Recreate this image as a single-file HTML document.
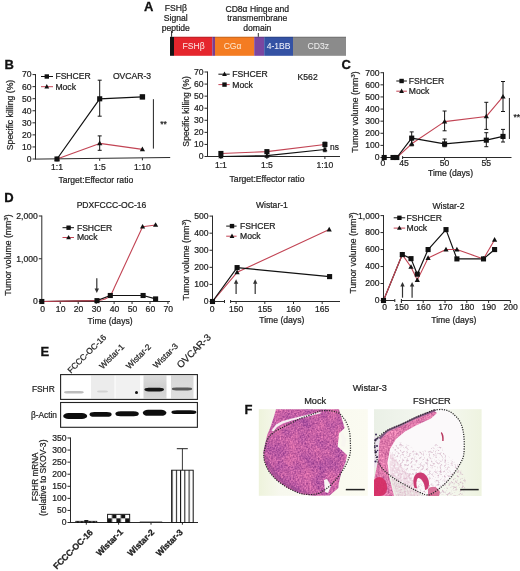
<!DOCTYPE html>
<html><head><meta charset="utf-8"><title>Figure</title>
<style>html,body{margin:0;padding:0;background:#fff;}svg{display:block;filter:blur(0.35px);}text{font-family:'Liberation Sans', Arial, Helvetica, sans-serif;}</style>
</head><body>
<svg width="520" height="571" viewBox="0 0 520 571">
<defs>
<filter id="bl1" x="-30%" y="-100%" width="160%" height="300%"><feGaussianBlur stdDeviation="0.7"/></filter>
<linearGradient id="lane4" x1="0" y1="0" x2="0" y2="1"><stop offset="0" stop-color="#dcdcdc"/><stop offset="0.5" stop-color="#cfcfcf"/><stop offset="1" stop-color="#d8d8d8"/></linearGradient>
<linearGradient id="lane5" x1="0" y1="0" x2="0" y2="1"><stop offset="0" stop-color="#d8d8d8"/><stop offset="1" stop-color="#dedede"/></linearGradient>
<pattern id="checker" x="107.6" y="514.3" width="8.8" height="8.8" patternUnits="userSpaceOnUse"><rect width="8.8" height="8.8" fill="#fff"/><rect x="4.4" y="0" width="4.4" height="4.1" fill="#111"/><rect x="0" y="4.1" width="4.4" height="4.7" fill="#111"/></pattern>
<pattern id="vstripe" x="171.6" y="0" width="4.25" height="10" patternUnits="userSpaceOnUse"><rect width="4.25" height="10" fill="#fff"/><rect x="0" width="1" height="10" fill="#111"/></pattern>
<pattern id="dash" x="75.8" y="0" width="4" height="10" patternUnits="userSpaceOnUse"><rect width="4" height="10" fill="#fff"/><rect x="1" width="2" height="10" fill="#111"/></pattern>
<filter id="tex" x="0" y="0" width="100%" height="100%"><feTurbulence type="fractalNoise" baseFrequency="0.35" numOctaves="2" seed="3" result="n"/><feColorMatrix in="n" type="matrix" values="0 0 0 0 0  0 0 0 0 0  0 0 0 0 0  0 0 0 -0.9 1.05" result="a"/><feComposite in="SourceGraphic" in2="a" operator="in"/></filter>
<linearGradient id="bg1" x1="0" y1="0" x2="1" y2="0"><stop offset="0" stop-color="#eef3dc"/><stop offset="0.2" stop-color="#f7f8ee"/><stop offset="1" stop-color="#fbfbf1"/></linearGradient>
<linearGradient id="bg2" x1="0" y1="0" x2="1" y2="0"><stop offset="0" stop-color="#eaf0e6"/><stop offset="0.6" stop-color="#f6f8f2"/><stop offset="1" stop-color="#eef3e0"/></linearGradient>
<filter id="tissue" x="0" y="0" width="100%" height="100%" color-interpolation-filters="sRGB"><feTurbulence type="fractalNoise" baseFrequency="0.07" numOctaves="2" seed="3" result="n1"/><feTurbulence type="fractalNoise" baseFrequency="0.6" numOctaves="2" seed="9" result="n2a"/><feGaussianBlur in="n2a" stdDeviation="0.3" result="n2"/><feColorMatrix in="n1" type="matrix" values="0.25 0 0 0 0  0.15 0 0 0 0  0.05 0 0 0 0  0 0 0 0 1" result="c1"/><feColorMatrix in="n2" type="matrix" values="0.5 0 0 0 0.39  0.4 0 0 0 0.098  0.3 0 0 0 0.472  0 0 0 0 1" result="c2"/><feComposite in="c1" in2="c2" operator="arithmetic" k1="0" k2="1" k3="1" k4="0" result="c"/><feComposite in="c" in2="SourceGraphic" operator="in"/></filter>
<filter id="tissue2" x="0" y="0" width="100%" height="100%" color-interpolation-filters="sRGB"><feTurbulence type="fractalNoise" baseFrequency="0.1" numOctaves="2" seed="5" result="n1"/><feTurbulence type="fractalNoise" baseFrequency="0.6" numOctaves="2" seed="13" result="n2a"/><feGaussianBlur in="n2a" stdDeviation="0.3" result="n2"/><feColorMatrix in="n1" type="matrix" values="0.2 0 0 0 0  0.2 0 0 0 0  0.15 0 0 0 0  0 0 0 0 1" result="c1"/><feColorMatrix in="n2" type="matrix" values="0.45 0 0 0 0.538  0.45 0 0 0 0.145  0.35 0 0 0 0.417  0 0 0 0 1" result="c2"/><feComposite in="c1" in2="c2" operator="arithmetic" k1="0" k2="1" k3="1" k4="0" result="c"/><feComposite in="c" in2="SourceGraphic" operator="in"/></filter>
<filter id="tex2" x="0" y="0" width="100%" height="100%" color-interpolation-filters="sRGB"><feTurbulence type="fractalNoise" baseFrequency="0.5" numOctaves="2" seed="4" result="n"/><feColorMatrix in="n" type="matrix" values="0 0 0 0 0  0 0 0 0 0  0 0 0 0 0  0 0 0 -2.2 1.6" result="a"/><feComposite in="SourceGraphic" in2="a" operator="in"/></filter>
<filter id="debris" x="0" y="0" width="100%" height="100%" color-interpolation-filters="sRGB"><feTurbulence type="fractalNoise" baseFrequency="0.45" numOctaves="2" seed="21" result="n"/><feColorMatrix in="n" type="matrix" values="0 0 0 0 0  0 0 0 0 0  0 0 0 0 0  2.4 0 0 0 -1.2" result="a"/><feComposite in="SourceGraphic" in2="a" operator="in" result="d"/><feGaussianBlur in="d" stdDeviation="0.35"/></filter>
<filter id="debris2" x="0" y="0" width="100%" height="100%" color-interpolation-filters="sRGB"><feTurbulence type="fractalNoise" baseFrequency="0.5" numOctaves="2" seed="31" result="n"/><feColorMatrix in="n" type="matrix" values="0 0 0 0 0  0 0 0 0 0  0 0 0 0 0  2.5 0 0 0 -0.6" result="a"/><feComposite in="SourceGraphic" in2="a" operator="in"/></filter>
</defs>
<rect width="520" height="571" fill="#fff"/>
<text x="144.00" y="11.20" font-size="13" text-anchor="start" font-weight="bold" fill="#111" stroke="#111" stroke-width="0.3">A</text>
<text x="175.80" y="11.40" font-size="8.6" text-anchor="middle" fill="#1e1e1e" stroke="#1e1e1e" stroke-width="0.22">FSH&#946;</text>
<text x="175.80" y="21.00" font-size="8.6" text-anchor="middle" fill="#1e1e1e" stroke="#1e1e1e" stroke-width="0.22">Signal</text>
<text x="175.80" y="30.60" font-size="8.6" text-anchor="middle" fill="#1e1e1e" stroke="#1e1e1e" stroke-width="0.22">peptide</text>
<text x="257.30" y="11.50" font-size="8.6" text-anchor="middle" fill="#1e1e1e" stroke="#1e1e1e" stroke-width="0.22">CD8&#945; Hinge and</text>
<text x="257.30" y="21.10" font-size="8.6" text-anchor="middle" fill="#1e1e1e" stroke="#1e1e1e" stroke-width="0.22">transmembrane</text>
<text x="257.30" y="30.70" font-size="8.6" text-anchor="middle" fill="#1e1e1e" stroke="#1e1e1e" stroke-width="0.22">domain</text>
<rect x="170" y="36.8" width="4.00" height="19.00" fill="#141414"/>
<rect x="174" y="36.8" width="38.30" height="19.00" fill="#e5262d"/>
<rect x="212.3" y="36.8" width="2.70" height="19.00" fill="#7a3d8f"/>
<rect x="215" y="36.8" width="39.20" height="19.00" fill="#f47c22"/>
<rect x="254.2" y="36.8" width="10.00" height="19.00" fill="#7b46a0"/>
<rect x="264.2" y="36.8" width="28.80" height="19.00" fill="#3452a4"/>
<rect x="293" y="36.8" width="53.00" height="19.00" fill="#8b8b8b"/>
<line x1="174.00" y1="37.20" x2="346.00" y2="37.20" stroke="rgba(0,0,0,0.25)" stroke-width="0.8"/>
<line x1="171.60" y1="31.00" x2="171.60" y2="36.80" stroke="#111" stroke-width="0.9"/>
<line x1="258.30" y1="33.00" x2="258.30" y2="36.80" stroke="#111" stroke-width="0.9"/>
<text x="193.60" y="48.60" font-size="8.6" text-anchor="middle" fill="#fbe3e0" stroke="#fbe3e0" stroke-width="0.05">FSH&#946;</text>
<text x="232.60" y="48.60" font-size="8.6" text-anchor="middle" fill="#fde3c8" stroke="#fde3c8" stroke-width="0.05">CG&#945;</text>
<text x="278.60" y="49.00" font-size="8.6" text-anchor="middle" fill="#eef0fa" stroke="#eef0fa" stroke-width="0.05">4-1BB</text>
<text x="318.30" y="49.00" font-size="8.6" text-anchor="middle" fill="#ececec" stroke="#ececec" stroke-width="0.05">CD3z</text>
<text x="4.50" y="68.80" font-size="13" text-anchor="start" font-weight="bold" fill="#111" stroke="#111" stroke-width="0.3">B</text>
<line x1="35.50" y1="74.08" x2="35.50" y2="159.50" stroke="#2a2a2a" stroke-width="1.0"/>
<line x1="32.50" y1="159.00" x2="35.50" y2="159.00" stroke="#2a2a2a" stroke-width="1.0"/>
<text x="31.50" y="161.90" font-size="8.6" text-anchor="end" fill="#1e1e1e" stroke="#1e1e1e" stroke-width="0.22">0</text>
<line x1="32.50" y1="146.94" x2="35.50" y2="146.94" stroke="#2a2a2a" stroke-width="1.0"/>
<text x="31.50" y="149.84" font-size="8.6" text-anchor="end" fill="#1e1e1e" stroke="#1e1e1e" stroke-width="0.22">10</text>
<line x1="32.50" y1="134.88" x2="35.50" y2="134.88" stroke="#2a2a2a" stroke-width="1.0"/>
<text x="31.50" y="137.78" font-size="8.6" text-anchor="end" fill="#1e1e1e" stroke="#1e1e1e" stroke-width="0.22">20</text>
<line x1="32.50" y1="122.82" x2="35.50" y2="122.82" stroke="#2a2a2a" stroke-width="1.0"/>
<text x="31.50" y="125.72" font-size="8.6" text-anchor="end" fill="#1e1e1e" stroke="#1e1e1e" stroke-width="0.22">30</text>
<line x1="32.50" y1="110.76" x2="35.50" y2="110.76" stroke="#2a2a2a" stroke-width="1.0"/>
<text x="31.50" y="113.66" font-size="8.6" text-anchor="end" fill="#1e1e1e" stroke="#1e1e1e" stroke-width="0.22">40</text>
<line x1="32.50" y1="98.70" x2="35.50" y2="98.70" stroke="#2a2a2a" stroke-width="1.0"/>
<text x="31.50" y="101.60" font-size="8.6" text-anchor="end" fill="#1e1e1e" stroke="#1e1e1e" stroke-width="0.22">50</text>
<line x1="32.50" y1="86.64" x2="35.50" y2="86.64" stroke="#2a2a2a" stroke-width="1.0"/>
<text x="31.50" y="89.54" font-size="8.6" text-anchor="end" fill="#1e1e1e" stroke="#1e1e1e" stroke-width="0.22">60</text>
<line x1="32.50" y1="74.58" x2="35.50" y2="74.58" stroke="#2a2a2a" stroke-width="1.0"/>
<text x="31.50" y="77.48" font-size="8.6" text-anchor="end" fill="#1e1e1e" stroke="#1e1e1e" stroke-width="0.22">70</text>
<line x1="35.50" y1="159.10" x2="170.20" y2="157.50" stroke="#2a2a2a" stroke-width="1.0"/>
<line x1="57.00" y1="158.85" x2="57.00" y2="161.35" stroke="#2a2a2a" stroke-width="1.0"/>
<text x="57.00" y="169.90" font-size="8.6" text-anchor="middle" fill="#1e1e1e" stroke="#1e1e1e" stroke-width="0.22">1:1</text>
<line x1="99.70" y1="158.34" x2="99.70" y2="160.84" stroke="#2a2a2a" stroke-width="1.0"/>
<text x="99.70" y="169.90" font-size="8.6" text-anchor="middle" fill="#1e1e1e" stroke="#1e1e1e" stroke-width="0.22">1:5</text>
<line x1="142.40" y1="157.83" x2="142.40" y2="160.33" stroke="#2a2a2a" stroke-width="1.0"/>
<text x="142.40" y="169.90" font-size="8.6" text-anchor="middle" fill="#1e1e1e" stroke="#1e1e1e" stroke-width="0.22">1:10</text>
<text x="95.80" y="182.60" font-size="8.6" text-anchor="middle" fill="#1e1e1e" stroke="#1e1e1e" stroke-width="0.22">Target:Effector ratio</text>
<text x="12.80" y="115.00" font-size="8.7" text-anchor="middle" fill="#1e1e1e" stroke="#1e1e1e" stroke-width="0.22" transform="rotate(-90 12.80 115.00)">Specific killing (%)</text>
<polyline points="57.00,159.00 99.70,143.40 142.40,149.40" fill="none" stroke="#c24454" stroke-width="1.1" stroke-linejoin="round"/>
<polyline points="57.00,159.00 99.70,98.80 142.40,96.90" fill="none" stroke="#111" stroke-width="1.2" stroke-linejoin="round"/>
<line x1="99.70" y1="80.20" x2="99.70" y2="116.20" stroke="#151515" stroke-width="1.0"/>
<line x1="97.70" y1="80.20" x2="101.70" y2="80.20" stroke="#151515" stroke-width="1.0"/>
<line x1="97.70" y1="116.20" x2="101.70" y2="116.20" stroke="#151515" stroke-width="1.0"/>
<line x1="99.70" y1="135.90" x2="99.70" y2="150.30" stroke="#151515" stroke-width="1.0"/>
<line x1="97.70" y1="135.90" x2="101.70" y2="135.90" stroke="#151515" stroke-width="1.0"/>
<line x1="97.70" y1="150.30" x2="101.70" y2="150.30" stroke="#151515" stroke-width="1.0"/>
<line x1="142.40" y1="95.40" x2="142.40" y2="98.60" stroke="#151515" stroke-width="1.0"/>
<line x1="140.65" y1="95.40" x2="144.15" y2="95.40" stroke="#151515" stroke-width="1.0"/>
<line x1="140.65" y1="98.60" x2="144.15" y2="98.60" stroke="#151515" stroke-width="1.0"/>
<path d="M99.70,140.59 L102.30,145.27 L97.10,145.27Z" fill="#111"/>
<path d="M142.40,146.59 L145.00,151.27 L139.80,151.27Z" fill="#111"/>
<rect x="54.45" y="156.45" width="5.1" height="5.1" fill="#111"/>
<rect x="97.15" y="96.25" width="5.1" height="5.1" fill="#111"/>
<rect x="139.70" y="94.20" width="5.4" height="5.4" fill="#111"/>
<path d="M57.00,156.19 L59.60,160.87 L54.40,160.87Z" fill="#111"/>
<line x1="153.40" y1="99.20" x2="153.40" y2="148.60" stroke="#222" stroke-width="1.0"/>
<text x="160.20" y="127.00" font-size="8.6" text-anchor="start" fill="#1e1e1e" stroke="#1e1e1e" stroke-width="0.22">**</text>
<line x1="41.00" y1="76.50" x2="53.00" y2="76.50" stroke="#111" stroke-width="1.0"/>
<rect x="44.60" y="74.30" width="4.4" height="4.4" fill="#111"/>
<text x="55.40" y="79.40" font-size="8.6" text-anchor="start" fill="#1e1e1e" stroke="#1e1e1e" stroke-width="0.22">FSHCER</text>
<line x1="41.00" y1="86.70" x2="53.00" y2="86.70" stroke="#c24454" stroke-width="1.0"/>
<path d="M46.80,84.11 L49.20,88.43 L44.40,88.43Z" fill="#111"/>
<text x="55.40" y="89.60" font-size="8.6" text-anchor="start" fill="#1e1e1e" stroke="#1e1e1e" stroke-width="0.22">Mock</text>
<text x="112.90" y="79.40" font-size="8.6" text-anchor="start" fill="#1e1e1e" stroke="#1e1e1e" stroke-width="0.22">OVCAR-3</text>
<line x1="207.50" y1="71.51" x2="207.50" y2="157.00" stroke="#2a2a2a" stroke-width="1.0"/>
<line x1="204.50" y1="156.50" x2="207.50" y2="156.50" stroke="#2a2a2a" stroke-width="1.0"/>
<text x="203.50" y="159.40" font-size="8.6" text-anchor="end" fill="#1e1e1e" stroke="#1e1e1e" stroke-width="0.22">0</text>
<line x1="204.50" y1="144.43" x2="207.50" y2="144.43" stroke="#2a2a2a" stroke-width="1.0"/>
<text x="203.50" y="147.33" font-size="8.6" text-anchor="end" fill="#1e1e1e" stroke="#1e1e1e" stroke-width="0.22">10</text>
<line x1="204.50" y1="132.36" x2="207.50" y2="132.36" stroke="#2a2a2a" stroke-width="1.0"/>
<text x="203.50" y="135.26" font-size="8.6" text-anchor="end" fill="#1e1e1e" stroke="#1e1e1e" stroke-width="0.22">20</text>
<line x1="204.50" y1="120.29" x2="207.50" y2="120.29" stroke="#2a2a2a" stroke-width="1.0"/>
<text x="203.50" y="123.19" font-size="8.6" text-anchor="end" fill="#1e1e1e" stroke="#1e1e1e" stroke-width="0.22">30</text>
<line x1="204.50" y1="108.22" x2="207.50" y2="108.22" stroke="#2a2a2a" stroke-width="1.0"/>
<text x="203.50" y="111.12" font-size="8.6" text-anchor="end" fill="#1e1e1e" stroke="#1e1e1e" stroke-width="0.22">40</text>
<line x1="204.50" y1="96.15" x2="207.50" y2="96.15" stroke="#2a2a2a" stroke-width="1.0"/>
<text x="203.50" y="99.05" font-size="8.6" text-anchor="end" fill="#1e1e1e" stroke="#1e1e1e" stroke-width="0.22">50</text>
<line x1="204.50" y1="84.08" x2="207.50" y2="84.08" stroke="#2a2a2a" stroke-width="1.0"/>
<text x="203.50" y="86.98" font-size="8.6" text-anchor="end" fill="#1e1e1e" stroke="#1e1e1e" stroke-width="0.22">60</text>
<line x1="204.50" y1="72.01" x2="207.50" y2="72.01" stroke="#2a2a2a" stroke-width="1.0"/>
<text x="203.50" y="74.91" font-size="8.6" text-anchor="end" fill="#1e1e1e" stroke="#1e1e1e" stroke-width="0.22">70</text>
<line x1="207.50" y1="156.50" x2="340.00" y2="156.50" stroke="#2a2a2a" stroke-width="1.0"/>
<line x1="220.90" y1="156.50" x2="220.90" y2="159.00" stroke="#2a2a2a" stroke-width="1.0"/>
<text x="220.90" y="167.90" font-size="8.6" text-anchor="middle" fill="#1e1e1e" stroke="#1e1e1e" stroke-width="0.22">1:1</text>
<line x1="266.90" y1="156.50" x2="266.90" y2="159.00" stroke="#2a2a2a" stroke-width="1.0"/>
<text x="266.90" y="167.90" font-size="8.6" text-anchor="middle" fill="#1e1e1e" stroke="#1e1e1e" stroke-width="0.22">1:5</text>
<line x1="324.90" y1="156.50" x2="324.90" y2="159.00" stroke="#2a2a2a" stroke-width="1.0"/>
<text x="324.90" y="167.90" font-size="8.6" text-anchor="middle" fill="#1e1e1e" stroke="#1e1e1e" stroke-width="0.22">1:10</text>
<text x="267.00" y="181.60" font-size="8.6" text-anchor="middle" fill="#1e1e1e" stroke="#1e1e1e" stroke-width="0.22">Target:Effector ratio</text>
<text x="188.60" y="111.40" font-size="8.7" text-anchor="middle" fill="#1e1e1e" stroke="#1e1e1e" stroke-width="0.22" transform="rotate(-90 188.60 111.40)">Specific killing (%)</text>
<polyline points="220.90,153.48 266.90,151.67 324.90,144.43" fill="none" stroke="#c24454" stroke-width="1.1" stroke-linejoin="round"/>
<polyline points="220.90,156.50 266.90,155.66 324.90,149.50" fill="none" stroke="#111" stroke-width="1.2" stroke-linejoin="round"/>
<line x1="324.90" y1="142.23" x2="324.90" y2="145.93" stroke="#151515" stroke-width="1.0"/>
<line x1="323.15" y1="142.23" x2="326.65" y2="142.23" stroke="#151515" stroke-width="1.0"/>
<line x1="323.15" y1="145.93" x2="326.65" y2="145.93" stroke="#151515" stroke-width="1.0"/>
<line x1="324.90" y1="148.00" x2="324.90" y2="151.70" stroke="#151515" stroke-width="1.0"/>
<line x1="323.15" y1="148.00" x2="326.65" y2="148.00" stroke="#151515" stroke-width="1.0"/>
<line x1="323.15" y1="151.70" x2="326.65" y2="151.70" stroke="#151515" stroke-width="1.0"/>
<line x1="220.90" y1="151.98" x2="220.90" y2="157.50" stroke="#151515" stroke-width="1.0"/>
<line x1="219.15" y1="151.98" x2="222.65" y2="151.98" stroke="#151515" stroke-width="1.0"/>
<line x1="219.15" y1="157.50" x2="222.65" y2="157.50" stroke="#151515" stroke-width="1.0"/>
<line x1="266.90" y1="150.17" x2="266.90" y2="157.16" stroke="#151515" stroke-width="1.0"/>
<line x1="265.15" y1="150.17" x2="268.65" y2="150.17" stroke="#151515" stroke-width="1.0"/>
<line x1="265.15" y1="157.16" x2="268.65" y2="157.16" stroke="#151515" stroke-width="1.0"/>
<path d="M220.90,153.69 L223.50,158.37 L218.30,158.37Z" fill="#111"/>
<path d="M266.90,152.85 L269.50,157.53 L264.30,157.53Z" fill="#111"/>
<path d="M324.90,146.69 L327.50,151.37 L322.30,151.37Z" fill="#111"/>
<rect x="218.35" y="150.93" width="5.1" height="5.1" fill="#111"/>
<rect x="264.35" y="149.12" width="5.1" height="5.1" fill="#111"/>
<rect x="322.35" y="141.88" width="5.1" height="5.1" fill="#111"/>
<text x="330.00" y="149.60" font-size="8.4" text-anchor="start" fill="#1e1e1e" stroke="#1e1e1e" stroke-width="0.22">ns</text>
<line x1="218.40" y1="74.20" x2="229.70" y2="74.20" stroke="#111" stroke-width="1.0"/>
<path d="M224.50,71.61 L226.90,75.93 L222.10,75.93Z" fill="#111"/>
<text x="232.30" y="77.10" font-size="8.6" text-anchor="start" fill="#1e1e1e" stroke="#1e1e1e" stroke-width="0.22">FSHCER</text>
<line x1="218.40" y1="84.60" x2="229.70" y2="84.60" stroke="#c24454" stroke-width="1.0"/>
<rect x="222.30" y="82.40" width="4.4" height="4.4" fill="#111"/>
<text x="232.30" y="87.50" font-size="8.6" text-anchor="start" fill="#1e1e1e" stroke="#1e1e1e" stroke-width="0.22">Mock</text>
<text x="297.60" y="80.20" font-size="8.6" text-anchor="start" fill="#1e1e1e" stroke="#1e1e1e" stroke-width="0.22">K562</text>
<text x="341.60" y="68.80" font-size="13" text-anchor="start" font-weight="bold" fill="#111" stroke="#111" stroke-width="0.3">C</text>
<line x1="383.50" y1="72.23" x2="383.50" y2="158.00" stroke="#2a2a2a" stroke-width="1.0"/>
<line x1="380.50" y1="157.50" x2="383.50" y2="157.50" stroke="#2a2a2a" stroke-width="1.0"/>
<text x="379.50" y="160.40" font-size="8.6" text-anchor="end" fill="#1e1e1e" stroke="#1e1e1e" stroke-width="0.22">0</text>
<line x1="380.50" y1="145.39" x2="383.50" y2="145.39" stroke="#2a2a2a" stroke-width="1.0"/>
<text x="379.50" y="148.29" font-size="8.6" text-anchor="end" fill="#1e1e1e" stroke="#1e1e1e" stroke-width="0.22">100</text>
<line x1="380.50" y1="133.28" x2="383.50" y2="133.28" stroke="#2a2a2a" stroke-width="1.0"/>
<text x="379.50" y="136.18" font-size="8.6" text-anchor="end" fill="#1e1e1e" stroke="#1e1e1e" stroke-width="0.22">200</text>
<line x1="380.50" y1="121.17" x2="383.50" y2="121.17" stroke="#2a2a2a" stroke-width="1.0"/>
<text x="379.50" y="124.07" font-size="8.6" text-anchor="end" fill="#1e1e1e" stroke="#1e1e1e" stroke-width="0.22">300</text>
<line x1="380.50" y1="109.06" x2="383.50" y2="109.06" stroke="#2a2a2a" stroke-width="1.0"/>
<text x="379.50" y="111.96" font-size="8.6" text-anchor="end" fill="#1e1e1e" stroke="#1e1e1e" stroke-width="0.22">400</text>
<line x1="380.50" y1="96.95" x2="383.50" y2="96.95" stroke="#2a2a2a" stroke-width="1.0"/>
<text x="379.50" y="99.85" font-size="8.6" text-anchor="end" fill="#1e1e1e" stroke="#1e1e1e" stroke-width="0.22">500</text>
<line x1="380.50" y1="84.84" x2="383.50" y2="84.84" stroke="#2a2a2a" stroke-width="1.0"/>
<text x="379.50" y="87.74" font-size="8.6" text-anchor="end" fill="#1e1e1e" stroke="#1e1e1e" stroke-width="0.22">600</text>
<line x1="380.50" y1="72.73" x2="383.50" y2="72.73" stroke="#2a2a2a" stroke-width="1.0"/>
<text x="379.50" y="75.63" font-size="8.6" text-anchor="end" fill="#1e1e1e" stroke="#1e1e1e" stroke-width="0.22">700</text>
<line x1="383.50" y1="157.50" x2="390.50" y2="157.50" stroke="#2a2a2a" stroke-width="1.0"/>
<line x1="402.60" y1="157.50" x2="511.50" y2="157.50" stroke="#2a2a2a" stroke-width="1.0"/>
<line x1="402.60" y1="156.10" x2="402.60" y2="159.10" stroke="#2a2a2a" stroke-width="1.0"/>
<line x1="444.60" y1="157.50" x2="444.60" y2="160.00" stroke="#2a2a2a" stroke-width="1.0"/>
<line x1="486.30" y1="157.50" x2="486.30" y2="160.00" stroke="#2a2a2a" stroke-width="1.0"/>
<text x="382.80" y="166.40" font-size="8.6" text-anchor="middle" fill="#1e1e1e" stroke="#1e1e1e" stroke-width="0.22">0</text>
<text x="404.00" y="166.40" font-size="8.6" text-anchor="middle" fill="#1e1e1e" stroke="#1e1e1e" stroke-width="0.22">45</text>
<text x="444.60" y="166.40" font-size="8.6" text-anchor="middle" fill="#1e1e1e" stroke="#1e1e1e" stroke-width="0.22">50</text>
<text x="486.30" y="166.40" font-size="8.6" text-anchor="middle" fill="#1e1e1e" stroke="#1e1e1e" stroke-width="0.22">55</text>
<text x="450.50" y="176.20" font-size="8.6" text-anchor="middle" fill="#1e1e1e" stroke="#1e1e1e" stroke-width="0.22">Time (days)</text>
<text x="358.00" y="112.00" font-size="8.7" text-anchor="middle" fill="#1e1e1e" stroke="#1e1e1e" stroke-width="0.22" transform="rotate(-90 358.00 112.00)">Tumor volume (mm<tspan font-size="6.2" dy="-3.4">3</tspan><tspan dy="3.4">)</tspan></text>
<polyline points="384.20,157.50 393.00,157.50 396.80,157.50 411.70,143.82 444.60,121.65 486.30,116.45 503.00,96.71" fill="none" stroke="#c24454" stroke-width="1.1" stroke-linejoin="round"/>
<polyline points="384.20,157.50 393.00,157.50 396.80,157.50 411.70,138.12 444.60,143.94 486.30,140.18 503.00,136.43" fill="none" stroke="#111" stroke-width="1.2" stroke-linejoin="round"/>
<line x1="411.70" y1="131.90" x2="411.70" y2="144.40" stroke="#151515" stroke-width="1.0"/>
<line x1="409.70" y1="131.90" x2="413.70" y2="131.90" stroke="#151515" stroke-width="1.0"/>
<line x1="409.70" y1="144.40" x2="413.70" y2="144.40" stroke="#151515" stroke-width="1.0"/>
<line x1="411.70" y1="137.00" x2="411.70" y2="145.80" stroke="#151515" stroke-width="1.0"/>
<line x1="409.70" y1="137.00" x2="413.70" y2="137.00" stroke="#151515" stroke-width="1.0"/>
<line x1="409.70" y1="145.80" x2="413.70" y2="145.80" stroke="#151515" stroke-width="1.0"/>
<line x1="444.60" y1="139.00" x2="444.60" y2="146.70" stroke="#151515" stroke-width="1.0"/>
<line x1="442.60" y1="139.00" x2="446.60" y2="139.00" stroke="#151515" stroke-width="1.0"/>
<line x1="442.60" y1="146.70" x2="446.60" y2="146.70" stroke="#151515" stroke-width="1.0"/>
<line x1="444.60" y1="111.00" x2="444.60" y2="130.80" stroke="#151515" stroke-width="1.0"/>
<line x1="442.60" y1="111.00" x2="446.60" y2="111.00" stroke="#151515" stroke-width="1.0"/>
<line x1="442.60" y1="130.80" x2="446.60" y2="130.80" stroke="#151515" stroke-width="1.0"/>
<line x1="486.30" y1="132.70" x2="486.30" y2="146.70" stroke="#151515" stroke-width="1.0"/>
<line x1="484.30" y1="132.70" x2="488.30" y2="132.70" stroke="#151515" stroke-width="1.0"/>
<line x1="484.30" y1="146.70" x2="488.30" y2="146.70" stroke="#151515" stroke-width="1.0"/>
<line x1="486.30" y1="102.30" x2="486.30" y2="129.40" stroke="#151515" stroke-width="1.0"/>
<line x1="484.30" y1="102.30" x2="488.30" y2="102.30" stroke="#151515" stroke-width="1.0"/>
<line x1="484.30" y1="129.40" x2="488.30" y2="129.40" stroke="#151515" stroke-width="1.0"/>
<line x1="503.00" y1="129.40" x2="503.00" y2="142.00" stroke="#151515" stroke-width="1.0"/>
<line x1="501.00" y1="129.40" x2="505.00" y2="129.40" stroke="#151515" stroke-width="1.0"/>
<line x1="501.00" y1="142.00" x2="505.00" y2="142.00" stroke="#151515" stroke-width="1.0"/>
<line x1="503.00" y1="81.50" x2="503.00" y2="111.50" stroke="#151515" stroke-width="1.0"/>
<line x1="501.00" y1="81.50" x2="505.00" y2="81.50" stroke="#151515" stroke-width="1.0"/>
<line x1="501.00" y1="111.50" x2="505.00" y2="111.50" stroke="#151515" stroke-width="1.0"/>
<path d="M411.70,141.01 L414.30,145.69 L409.10,145.69Z" fill="#111"/>
<path d="M444.60,118.85 L447.20,123.53 L442.00,123.53Z" fill="#111"/>
<path d="M486.30,113.64 L488.90,118.32 L483.70,118.32Z" fill="#111"/>
<path d="M503.00,93.90 L505.60,98.58 L500.40,98.58Z" fill="#111"/>
<rect x="381.65" y="154.95" width="5.1" height="5.1" fill="#111"/>
<rect x="390.45" y="154.95" width="5.1" height="5.1" fill="#111"/>
<rect x="394.25" y="154.95" width="5.1" height="5.1" fill="#111"/>
<rect x="409.15" y="135.57" width="5.1" height="5.1" fill="#111"/>
<rect x="442.05" y="141.39" width="5.1" height="5.1" fill="#111"/>
<rect x="483.75" y="137.63" width="5.1" height="5.1" fill="#111"/>
<rect x="500.45" y="133.88" width="5.1" height="5.1" fill="#111"/>
<line x1="509.40" y1="98.00" x2="509.40" y2="139.00" stroke="#222" stroke-width="1.0"/>
<text x="513.40" y="119.50" font-size="8.6" text-anchor="start" fill="#1e1e1e" stroke="#1e1e1e" stroke-width="0.22">**</text>
<line x1="396.30" y1="81.00" x2="406.90" y2="81.00" stroke="#111" stroke-width="1.0"/>
<rect x="399.40" y="78.80" width="4.4" height="4.4" fill="#111"/>
<text x="408.80" y="83.90" font-size="8.6" text-anchor="start" fill="#1e1e1e" stroke="#1e1e1e" stroke-width="0.22">FSHCER</text>
<line x1="396.30" y1="91.20" x2="406.90" y2="91.20" stroke="#c24454" stroke-width="1.0"/>
<path d="M401.60,88.61 L404.00,92.93 L399.20,92.93Z" fill="#111"/>
<text x="408.80" y="94.10" font-size="8.6" text-anchor="start" fill="#1e1e1e" stroke="#1e1e1e" stroke-width="0.22">Mock</text>
<text x="4.30" y="202.20" font-size="13" text-anchor="start" font-weight="bold" fill="#111" stroke="#111" stroke-width="0.3">D</text>
<line x1="41.80" y1="215.50" x2="41.80" y2="302.00" stroke="#2a2a2a" stroke-width="1.0"/>
<line x1="38.80" y1="301.50" x2="41.80" y2="301.50" stroke="#2a2a2a" stroke-width="1.0"/>
<text x="37.80" y="304.40" font-size="8.6" text-anchor="end" fill="#1e1e1e" stroke="#1e1e1e" stroke-width="0.22">0</text>
<line x1="38.80" y1="258.75" x2="41.80" y2="258.75" stroke="#2a2a2a" stroke-width="1.0"/>
<text x="37.80" y="261.65" font-size="8.6" text-anchor="end" fill="#1e1e1e" stroke="#1e1e1e" stroke-width="0.22">1,000</text>
<line x1="38.80" y1="216.00" x2="41.80" y2="216.00" stroke="#2a2a2a" stroke-width="1.0"/>
<text x="37.80" y="218.90" font-size="8.6" text-anchor="end" fill="#1e1e1e" stroke="#1e1e1e" stroke-width="0.22">2,000</text>
<line x1="41.80" y1="301.50" x2="170.00" y2="301.50" stroke="#2a2a2a" stroke-width="1.0"/>
<line x1="42.30" y1="301.50" x2="42.30" y2="304.00" stroke="#2a2a2a" stroke-width="1.0"/>
<text x="42.70" y="311.90" font-size="8.6" text-anchor="middle" fill="#1e1e1e" stroke="#1e1e1e" stroke-width="0.22">0</text>
<line x1="60.25" y1="301.50" x2="60.25" y2="304.00" stroke="#2a2a2a" stroke-width="1.0"/>
<text x="60.65" y="311.90" font-size="8.6" text-anchor="middle" fill="#1e1e1e" stroke="#1e1e1e" stroke-width="0.22">10</text>
<line x1="78.20" y1="301.50" x2="78.20" y2="304.00" stroke="#2a2a2a" stroke-width="1.0"/>
<text x="78.60" y="311.90" font-size="8.6" text-anchor="middle" fill="#1e1e1e" stroke="#1e1e1e" stroke-width="0.22">20</text>
<line x1="96.15" y1="301.50" x2="96.15" y2="304.00" stroke="#2a2a2a" stroke-width="1.0"/>
<text x="96.55" y="311.90" font-size="8.6" text-anchor="middle" fill="#1e1e1e" stroke="#1e1e1e" stroke-width="0.22">30</text>
<line x1="114.10" y1="301.50" x2="114.10" y2="304.00" stroke="#2a2a2a" stroke-width="1.0"/>
<text x="114.50" y="311.90" font-size="8.6" text-anchor="middle" fill="#1e1e1e" stroke="#1e1e1e" stroke-width="0.22">40</text>
<line x1="132.05" y1="301.50" x2="132.05" y2="304.00" stroke="#2a2a2a" stroke-width="1.0"/>
<text x="132.45" y="311.90" font-size="8.6" text-anchor="middle" fill="#1e1e1e" stroke="#1e1e1e" stroke-width="0.22">50</text>
<line x1="150.00" y1="301.50" x2="150.00" y2="304.00" stroke="#2a2a2a" stroke-width="1.0"/>
<text x="150.40" y="311.90" font-size="8.6" text-anchor="middle" fill="#1e1e1e" stroke="#1e1e1e" stroke-width="0.22">60</text>
<line x1="167.95" y1="301.50" x2="167.95" y2="304.00" stroke="#2a2a2a" stroke-width="1.0"/>
<text x="168.35" y="311.90" font-size="8.6" text-anchor="middle" fill="#1e1e1e" stroke="#1e1e1e" stroke-width="0.22">70</text>
<text x="110.10" y="324.20" font-size="8.6" text-anchor="middle" fill="#1e1e1e" stroke="#1e1e1e" stroke-width="0.22">Time (days)</text>
<text x="11.00" y="255.00" font-size="8.7" text-anchor="middle" fill="#1e1e1e" stroke="#1e1e1e" stroke-width="0.22" transform="rotate(-90 11.00 255.00)">Tumor volume (mm<tspan font-size="6.2" dy="-3.4">3</tspan><tspan dy="3.4">)</tspan></text>
<text x="111.50" y="207.50" font-size="8.6" text-anchor="middle" fill="#1e1e1e" stroke="#1e1e1e" stroke-width="0.22">PDXFCCC-OC-16</text>
<polyline points="41.80,301.50 97.00,300.64 110.30,295.50 143.10,295.50 155.60,298.94" fill="none" stroke="#111" stroke-width="1.2" stroke-linejoin="round"/>
<path d="M41.80,301.50 L97.00,300.64 C103,300.2 108,298.2 110.3,295.5 C112.2,293.2 113.4,289.6 115.2,285.8 L142.60,226.69 L155.60,224.98" fill="none" stroke="#c24454" stroke-width="1.1" stroke-linejoin="round"/>
<path d="M142.60,223.88 L145.20,228.56 L140.00,228.56Z" fill="#111"/>
<path d="M155.60,222.17 L158.20,226.85 L153.00,226.85Z" fill="#111"/>
<rect x="39.25" y="298.95" width="5.1" height="5.1" fill="#111"/>
<rect x="94.45" y="298.09" width="5.1" height="5.1" fill="#111"/>
<rect x="107.75" y="292.95" width="5.1" height="5.1" fill="#111"/>
<rect x="140.55" y="292.95" width="5.1" height="5.1" fill="#111"/>
<rect x="153.05" y="296.38" width="5.1" height="5.1" fill="#111"/>
<line x1="96.80" y1="290.90" x2="96.80" y2="278.20" stroke="#333" stroke-width="1.2"/>
<path d="M96.80,292.90 L99.00,288.40 L94.60,288.40Z" fill="#333"/>
<line x1="62.50" y1="227.70" x2="74.00" y2="227.70" stroke="#111" stroke-width="1.0"/>
<rect x="66.40" y="225.50" width="4.4" height="4.4" fill="#111"/>
<text x="76.90" y="230.60" font-size="8.6" text-anchor="start" fill="#1e1e1e" stroke="#1e1e1e" stroke-width="0.22">FSHCER</text>
<line x1="62.50" y1="237.50" x2="74.00" y2="237.50" stroke="#c24454" stroke-width="1.0"/>
<path d="M68.60,234.91 L71.00,239.23 L66.20,239.23Z" fill="#111"/>
<text x="76.90" y="240.40" font-size="8.6" text-anchor="start" fill="#1e1e1e" stroke="#1e1e1e" stroke-width="0.22">Mock</text>
<line x1="212.50" y1="215.60" x2="212.50" y2="302.00" stroke="#2a2a2a" stroke-width="1.0"/>
<line x1="209.50" y1="301.50" x2="212.50" y2="301.50" stroke="#2a2a2a" stroke-width="1.0"/>
<text x="208.50" y="304.40" font-size="8.6" text-anchor="end" fill="#1e1e1e" stroke="#1e1e1e" stroke-width="0.22">0</text>
<line x1="209.50" y1="284.42" x2="212.50" y2="284.42" stroke="#2a2a2a" stroke-width="1.0"/>
<text x="208.50" y="287.32" font-size="8.6" text-anchor="end" fill="#1e1e1e" stroke="#1e1e1e" stroke-width="0.22">100</text>
<line x1="209.50" y1="267.34" x2="212.50" y2="267.34" stroke="#2a2a2a" stroke-width="1.0"/>
<text x="208.50" y="270.24" font-size="8.6" text-anchor="end" fill="#1e1e1e" stroke="#1e1e1e" stroke-width="0.22">200</text>
<line x1="209.50" y1="250.26" x2="212.50" y2="250.26" stroke="#2a2a2a" stroke-width="1.0"/>
<text x="208.50" y="253.16" font-size="8.6" text-anchor="end" fill="#1e1e1e" stroke="#1e1e1e" stroke-width="0.22">300</text>
<line x1="209.50" y1="233.18" x2="212.50" y2="233.18" stroke="#2a2a2a" stroke-width="1.0"/>
<text x="208.50" y="236.08" font-size="8.6" text-anchor="end" fill="#1e1e1e" stroke="#1e1e1e" stroke-width="0.22">400</text>
<line x1="209.50" y1="216.10" x2="212.50" y2="216.10" stroke="#2a2a2a" stroke-width="1.0"/>
<text x="208.50" y="219.00" font-size="8.6" text-anchor="end" fill="#1e1e1e" stroke="#1e1e1e" stroke-width="0.22">500</text>
<line x1="212.50" y1="301.50" x2="224.50" y2="301.50" stroke="#2a2a2a" stroke-width="1.0"/>
<line x1="224.50" y1="300.00" x2="224.50" y2="303.00" stroke="#2a2a2a" stroke-width="1.0"/>
<line x1="230.60" y1="301.50" x2="340.00" y2="301.50" stroke="#2a2a2a" stroke-width="1.0"/>
<line x1="230.60" y1="300.00" x2="230.60" y2="303.00" stroke="#2a2a2a" stroke-width="1.0"/>
<text x="212.20" y="311.70" font-size="8.6" text-anchor="middle" fill="#1e1e1e" stroke="#1e1e1e" stroke-width="0.22">0</text>
<line x1="236.10" y1="301.50" x2="236.10" y2="304.00" stroke="#2a2a2a" stroke-width="1.0"/>
<text x="236.10" y="311.70" font-size="8.6" text-anchor="middle" fill="#1e1e1e" stroke="#1e1e1e" stroke-width="0.22">150</text>
<line x1="264.80" y1="301.50" x2="264.80" y2="304.00" stroke="#2a2a2a" stroke-width="1.0"/>
<text x="264.80" y="311.70" font-size="8.6" text-anchor="middle" fill="#1e1e1e" stroke="#1e1e1e" stroke-width="0.22">155</text>
<line x1="293.50" y1="301.50" x2="293.50" y2="304.00" stroke="#2a2a2a" stroke-width="1.0"/>
<text x="293.50" y="311.70" font-size="8.6" text-anchor="middle" fill="#1e1e1e" stroke="#1e1e1e" stroke-width="0.22">160</text>
<line x1="322.20" y1="301.50" x2="322.20" y2="304.00" stroke="#2a2a2a" stroke-width="1.0"/>
<text x="322.20" y="311.70" font-size="8.6" text-anchor="middle" fill="#1e1e1e" stroke="#1e1e1e" stroke-width="0.22">165</text>
<text x="281.80" y="323.00" font-size="8.6" text-anchor="middle" fill="#1e1e1e" stroke="#1e1e1e" stroke-width="0.22">Time (days)</text>
<text x="189.50" y="259.90" font-size="8.7" text-anchor="middle" fill="#1e1e1e" stroke="#1e1e1e" stroke-width="0.22" transform="rotate(-90 189.50 259.90)">Tumor volume (mm<tspan font-size="6.2" dy="-3.4">3</tspan><tspan dy="3.4">)</tspan></text>
<text x="271.90" y="208.00" font-size="8.6" text-anchor="middle" fill="#1e1e1e" stroke="#1e1e1e" stroke-width="0.22">Wistar-1</text>
<polyline points="212.50,301.50 237.10,272.30 329.20,229.60" fill="none" stroke="#c24454" stroke-width="1.1" stroke-linejoin="round"/>
<polyline points="212.50,301.50 237.10,267.60 329.60,276.60" fill="none" stroke="#111" stroke-width="1.2" stroke-linejoin="round"/>
<path d="M237.10,269.49 L239.70,274.17 L234.50,274.17Z" fill="#111"/>
<path d="M329.20,226.79 L331.80,231.47 L326.60,231.47Z" fill="#111"/>
<rect x="209.95" y="298.95" width="5.1" height="5.1" fill="#111"/>
<rect x="234.55" y="265.05" width="5.1" height="5.1" fill="#111"/>
<rect x="327.05" y="274.05" width="5.1" height="5.1" fill="#111"/>
<line x1="236.10" y1="281.20" x2="236.10" y2="294.00" stroke="#333" stroke-width="1.2"/>
<path d="M236.10,279.20 L238.30,283.70 L233.90,283.70Z" fill="#333"/>
<line x1="255.20" y1="281.20" x2="255.20" y2="294.00" stroke="#333" stroke-width="1.2"/>
<path d="M255.20,279.20 L257.40,283.70 L253.00,283.70Z" fill="#333"/>
<line x1="226.20" y1="226.10" x2="236.60" y2="226.10" stroke="#111" stroke-width="1.0"/>
<rect x="229.80" y="223.90" width="4.4" height="4.4" fill="#111"/>
<text x="240.00" y="229.00" font-size="8.6" text-anchor="start" fill="#1e1e1e" stroke="#1e1e1e" stroke-width="0.22">FSHCER</text>
<line x1="226.20" y1="236.20" x2="236.60" y2="236.20" stroke="#c24454" stroke-width="1.0"/>
<path d="M232.00,233.61 L234.40,237.93 L229.60,237.93Z" fill="#111"/>
<text x="240.00" y="239.10" font-size="8.6" text-anchor="start" fill="#1e1e1e" stroke="#1e1e1e" stroke-width="0.22">Mock</text>
<line x1="383.50" y1="215.10" x2="383.50" y2="301.00" stroke="#2a2a2a" stroke-width="1.0"/>
<line x1="380.50" y1="300.50" x2="383.50" y2="300.50" stroke="#2a2a2a" stroke-width="1.0"/>
<text x="379.50" y="303.40" font-size="8.6" text-anchor="end" fill="#1e1e1e" stroke="#1e1e1e" stroke-width="0.22">0</text>
<line x1="380.50" y1="283.52" x2="383.50" y2="283.52" stroke="#2a2a2a" stroke-width="1.0"/>
<text x="379.50" y="286.42" font-size="8.6" text-anchor="end" fill="#1e1e1e" stroke="#1e1e1e" stroke-width="0.22">200</text>
<line x1="380.50" y1="266.54" x2="383.50" y2="266.54" stroke="#2a2a2a" stroke-width="1.0"/>
<text x="379.50" y="269.44" font-size="8.6" text-anchor="end" fill="#1e1e1e" stroke="#1e1e1e" stroke-width="0.22">400</text>
<line x1="380.50" y1="249.56" x2="383.50" y2="249.56" stroke="#2a2a2a" stroke-width="1.0"/>
<text x="379.50" y="252.46" font-size="8.6" text-anchor="end" fill="#1e1e1e" stroke="#1e1e1e" stroke-width="0.22">600</text>
<line x1="380.50" y1="232.58" x2="383.50" y2="232.58" stroke="#2a2a2a" stroke-width="1.0"/>
<text x="379.50" y="235.48" font-size="8.6" text-anchor="end" fill="#1e1e1e" stroke="#1e1e1e" stroke-width="0.22">800</text>
<line x1="380.50" y1="215.60" x2="383.50" y2="215.60" stroke="#2a2a2a" stroke-width="1.0"/>
<text x="379.50" y="218.50" font-size="8.6" text-anchor="end" fill="#1e1e1e" stroke="#1e1e1e" stroke-width="0.22">1,000</text>
<line x1="383.50" y1="300.50" x2="394.80" y2="300.50" stroke="#2a2a2a" stroke-width="1.0"/>
<line x1="394.80" y1="299.00" x2="394.80" y2="302.00" stroke="#2a2a2a" stroke-width="1.0"/>
<line x1="401.40" y1="300.50" x2="510.60" y2="300.50" stroke="#2a2a2a" stroke-width="1.0"/>
<line x1="401.40" y1="299.00" x2="401.40" y2="302.00" stroke="#2a2a2a" stroke-width="1.0"/>
<text x="384.60" y="310.20" font-size="8.6" text-anchor="middle" fill="#1e1e1e" stroke="#1e1e1e" stroke-width="0.22">0</text>
<line x1="401.40" y1="300.50" x2="401.40" y2="303.00" stroke="#2a2a2a" stroke-width="1.0"/>
<text x="401.70" y="310.20" font-size="8.6" text-anchor="middle" fill="#1e1e1e" stroke="#1e1e1e" stroke-width="0.22">150</text>
<line x1="423.20" y1="300.50" x2="423.20" y2="303.00" stroke="#2a2a2a" stroke-width="1.0"/>
<text x="423.50" y="310.20" font-size="8.6" text-anchor="middle" fill="#1e1e1e" stroke="#1e1e1e" stroke-width="0.22">160</text>
<line x1="445.00" y1="300.50" x2="445.00" y2="303.00" stroke="#2a2a2a" stroke-width="1.0"/>
<text x="445.30" y="310.20" font-size="8.6" text-anchor="middle" fill="#1e1e1e" stroke="#1e1e1e" stroke-width="0.22">170</text>
<line x1="466.80" y1="300.50" x2="466.80" y2="303.00" stroke="#2a2a2a" stroke-width="1.0"/>
<text x="467.10" y="310.20" font-size="8.6" text-anchor="middle" fill="#1e1e1e" stroke="#1e1e1e" stroke-width="0.22">180</text>
<line x1="488.60" y1="300.50" x2="488.60" y2="303.00" stroke="#2a2a2a" stroke-width="1.0"/>
<text x="488.90" y="310.20" font-size="8.6" text-anchor="middle" fill="#1e1e1e" stroke="#1e1e1e" stroke-width="0.22">190</text>
<line x1="510.40" y1="300.50" x2="510.40" y2="303.00" stroke="#2a2a2a" stroke-width="1.0"/>
<text x="510.70" y="310.20" font-size="8.6" text-anchor="middle" fill="#1e1e1e" stroke="#1e1e1e" stroke-width="0.22">200</text>
<text x="453.80" y="322.80" font-size="8.6" text-anchor="middle" fill="#1e1e1e" stroke="#1e1e1e" stroke-width="0.22">Time (days)</text>
<text x="356.00" y="252.90" font-size="8.7" text-anchor="middle" fill="#1e1e1e" stroke="#1e1e1e" stroke-width="0.22" transform="rotate(-90 356.00 252.90)">Tumor volume (mm<tspan font-size="6.2" dy="-3.4">3</tspan><tspan dy="3.4">)</tspan></text>
<text x="448.50" y="209.40" font-size="8.6" text-anchor="middle" fill="#1e1e1e" stroke="#1e1e1e" stroke-width="0.22">Wistar-2</text>
<polyline points="383.50,300.50 402.30,254.57 411.00,258.64 417.30,274.18 428.10,249.56 446.00,229.61 456.90,258.90 483.50,258.90 494.60,249.56" fill="none" stroke="#111" stroke-width="1.2" stroke-linejoin="round"/>
<polyline points="383.50,300.50 402.30,254.57 411.00,266.96 417.30,280.12 428.10,258.05 446.00,249.56 456.90,249.56 483.50,258.90 494.60,239.80" fill="none" stroke="#c24454" stroke-width="1.1" stroke-linejoin="round"/>
<path d="M402.30,251.76 L404.90,256.44 L399.70,256.44Z" fill="#111"/>
<path d="M411.00,264.16 L413.60,268.84 L408.40,268.84Z" fill="#111"/>
<path d="M417.30,277.32 L419.90,282.00 L414.70,282.00Z" fill="#111"/>
<path d="M428.10,255.24 L430.70,259.92 L425.50,259.92Z" fill="#111"/>
<path d="M446.00,246.75 L448.60,251.43 L443.40,251.43Z" fill="#111"/>
<path d="M456.90,246.75 L459.50,251.43 L454.30,251.43Z" fill="#111"/>
<path d="M483.50,256.09 L486.10,260.77 L480.90,260.77Z" fill="#111"/>
<path d="M494.60,236.99 L497.20,241.67 L492.00,241.67Z" fill="#111"/>
<rect x="380.95" y="297.95" width="5.1" height="5.1" fill="#111"/>
<rect x="399.75" y="252.02" width="5.1" height="5.1" fill="#111"/>
<rect x="408.45" y="256.09" width="5.1" height="5.1" fill="#111"/>
<rect x="414.75" y="271.63" width="5.1" height="5.1" fill="#111"/>
<rect x="425.55" y="247.01" width="5.1" height="5.1" fill="#111"/>
<rect x="443.45" y="227.06" width="5.1" height="5.1" fill="#111"/>
<rect x="454.35" y="256.35" width="5.1" height="5.1" fill="#111"/>
<rect x="480.95" y="256.35" width="5.1" height="5.1" fill="#111"/>
<rect x="492.05" y="247.01" width="5.1" height="5.1" fill="#111"/>
<line x1="402.50" y1="284.10" x2="402.50" y2="297.70" stroke="#333" stroke-width="1.2"/>
<path d="M402.50,282.10 L404.70,286.60 L400.30,286.60Z" fill="#333"/>
<line x1="412.10" y1="284.10" x2="412.10" y2="297.70" stroke="#333" stroke-width="1.2"/>
<path d="M412.10,282.10 L414.30,286.60 L409.90,286.60Z" fill="#333"/>
<line x1="393.70" y1="217.80" x2="405.20" y2="217.80" stroke="#111" stroke-width="1.0"/>
<rect x="397.20" y="215.60" width="4.4" height="4.4" fill="#111"/>
<text x="406.60" y="220.70" font-size="8.6" text-anchor="start" fill="#1e1e1e" stroke="#1e1e1e" stroke-width="0.22">FSHCER</text>
<line x1="393.70" y1="228.10" x2="405.20" y2="228.10" stroke="#c24454" stroke-width="1.0"/>
<path d="M399.40,225.51 L401.80,229.83 L397.00,229.83Z" fill="#111"/>
<text x="406.60" y="231.00" font-size="8.6" text-anchor="start" fill="#1e1e1e" stroke="#1e1e1e" stroke-width="0.22">Mock</text>
<text x="40.40" y="356.00" font-size="13" text-anchor="start" font-weight="bold" fill="#111" stroke="#111" stroke-width="0.3">E</text>
<text x="70.90" y="373.70" font-size="8.4" text-anchor="start" fill="#1e1e1e" stroke="#1e1e1e" stroke-width="0.22" transform="rotate(-45 70.90 373.70)">FCCC-OC-16</text>
<text x="102.70" y="369.40" font-size="8.4" text-anchor="start" fill="#1e1e1e" stroke="#1e1e1e" stroke-width="0.22" transform="rotate(-45 102.70 369.40)">Wistar-1</text>
<text x="129.50" y="369.40" font-size="8.4" text-anchor="start" fill="#1e1e1e" stroke="#1e1e1e" stroke-width="0.22" transform="rotate(-45 129.50 369.40)">Wistar-2</text>
<text x="156.50" y="368.80" font-size="8.4" text-anchor="start" fill="#1e1e1e" stroke="#1e1e1e" stroke-width="0.22" transform="rotate(-45 156.50 368.80)">Wistar-3</text>
<text x="180.70" y="368.80" font-size="9.8" text-anchor="start" fill="#1e1e1e" stroke="#1e1e1e" stroke-width="0.22" transform="rotate(-45 180.70 368.80)">OVCAR-3</text>
<rect x="91" y="375.5" width="23.5" height="23" fill="#ececec"/>
<rect x="115.5" y="375.5" width="24.5" height="23" fill="#f1f1f1"/>
<rect x="143.5" y="375.5" width="23" height="23" fill="url(#lane4)"/>
<rect x="171" y="375.5" width="22.5" height="23" fill="url(#lane5)"/>
<rect x="64.0" y="391.00" width="19.80" height="2.6" rx="4.36" ry="1.30" fill="#bdbdbd" filter="url(#bl1)"/>
<rect x="97.0" y="390.60" width="11.00" height="2.0" rx="2.42" ry="1.00" fill="#d2d2d2" filter="url(#bl1)"/>
<circle cx="136.5" cy="392.6" r="1.5" fill="#111"/>
<rect x="144.4" y="387.80" width="19.60" height="3.6" rx="4.31" ry="1.80" fill="#151515" filter="url(#bl1)"/>
<rect x="171.8" y="387.60" width="20.40" height="2.8" rx="4.49" ry="1.40" fill="#5a5a5a" filter="url(#bl1)"/>
<rect x="60.6" y="374.6" width="136.8" height="24.8" fill="none" stroke="#222" stroke-width="1.1"/>
<rect x="63.2" y="413.00" width="24.00" height="6.0" rx="5.28" ry="3.00" fill="#0c0c0c" filter="url(#bl1)"/>
<rect x="89.6" y="412.10" width="22.00" height="4.6" rx="4.84" ry="2.30" fill="#0c0c0c" filter="url(#bl1)"/>
<rect x="115.4" y="411.30" width="23.40" height="5.0" rx="5.15" ry="2.50" fill="#0c0c0c" filter="url(#bl1)"/>
<rect x="142.8" y="409.80" width="23.60" height="6.0" rx="5.19" ry="3.00" fill="#0c0c0c" filter="url(#bl1)"/>
<rect x="171.4" y="410.30" width="25.00" height="3.8" rx="5.50" ry="1.90" fill="#0c0c0c" filter="url(#bl1)"/>
<rect x="60.6" y="402.5" width="136.8" height="24.8" fill="none" stroke="#222" stroke-width="1.1"/>
<text x="31.90" y="392.10" font-size="8.4" text-anchor="start" fill="#1e1e1e" stroke="#1e1e1e" stroke-width="0.22">FSHR</text>
<text x="31.00" y="417.90" font-size="8.3" text-anchor="start" fill="#1e1e1e" stroke="#1e1e1e" stroke-width="0.22">&#946;-Actin</text>
<line x1="70.50" y1="437.51" x2="70.50" y2="523.00" stroke="#2a2a2a" stroke-width="1.0"/>
<line x1="67.50" y1="522.50" x2="70.50" y2="522.50" stroke="#2a2a2a" stroke-width="1.0"/>
<text x="66.50" y="525.40" font-size="8.6" text-anchor="end" fill="#1e1e1e" stroke="#1e1e1e" stroke-width="0.22">0</text>
<line x1="67.50" y1="510.43" x2="70.50" y2="510.43" stroke="#2a2a2a" stroke-width="1.0"/>
<text x="66.50" y="513.33" font-size="8.6" text-anchor="end" fill="#1e1e1e" stroke="#1e1e1e" stroke-width="0.22">50</text>
<line x1="67.50" y1="498.36" x2="70.50" y2="498.36" stroke="#2a2a2a" stroke-width="1.0"/>
<text x="66.50" y="501.26" font-size="8.6" text-anchor="end" fill="#1e1e1e" stroke="#1e1e1e" stroke-width="0.22">100</text>
<line x1="67.50" y1="486.29" x2="70.50" y2="486.29" stroke="#2a2a2a" stroke-width="1.0"/>
<text x="66.50" y="489.19" font-size="8.6" text-anchor="end" fill="#1e1e1e" stroke="#1e1e1e" stroke-width="0.22">150</text>
<line x1="67.50" y1="474.22" x2="70.50" y2="474.22" stroke="#2a2a2a" stroke-width="1.0"/>
<text x="66.50" y="477.12" font-size="8.6" text-anchor="end" fill="#1e1e1e" stroke="#1e1e1e" stroke-width="0.22">200</text>
<line x1="67.50" y1="462.15" x2="70.50" y2="462.15" stroke="#2a2a2a" stroke-width="1.0"/>
<text x="66.50" y="465.05" font-size="8.6" text-anchor="end" fill="#1e1e1e" stroke="#1e1e1e" stroke-width="0.22">250</text>
<line x1="67.50" y1="450.08" x2="70.50" y2="450.08" stroke="#2a2a2a" stroke-width="1.0"/>
<text x="66.50" y="452.98" font-size="8.6" text-anchor="end" fill="#1e1e1e" stroke="#1e1e1e" stroke-width="0.22">300</text>
<line x1="67.50" y1="438.01" x2="70.50" y2="438.01" stroke="#2a2a2a" stroke-width="1.0"/>
<text x="66.50" y="440.91" font-size="8.6" text-anchor="end" fill="#1e1e1e" stroke="#1e1e1e" stroke-width="0.22">350</text>
<line x1="70.50" y1="522.50" x2="198.00" y2="522.50" stroke="#2a2a2a" stroke-width="1.0"/>
<line x1="86.30" y1="522.50" x2="86.30" y2="524.70" stroke="#2a2a2a" stroke-width="1.0"/>
<line x1="118.60" y1="522.50" x2="118.60" y2="524.70" stroke="#2a2a2a" stroke-width="1.0"/>
<line x1="151.00" y1="522.50" x2="151.00" y2="524.70" stroke="#2a2a2a" stroke-width="1.0"/>
<line x1="182.40" y1="522.50" x2="182.40" y2="524.70" stroke="#2a2a2a" stroke-width="1.0"/>
<text x="37.70" y="476.80" font-size="8.2" text-anchor="middle" fill="#1e1e1e" stroke="#1e1e1e" stroke-width="0.22" transform="rotate(-90 37.70 476.80)">FSHR mRNA</text>
<text x="46.50" y="477.70" font-size="8.6" text-anchor="middle" fill="#1e1e1e" stroke="#1e1e1e" stroke-width="0.22" transform="rotate(-90 46.50 477.70)">(relative to SKOV-3)</text>
<rect x="75.8" y="521.29" width="21" height="1.21" fill="url(#dash)" stroke="#111" stroke-width="0.8"/>
<line x1="86.30" y1="520.57" x2="86.30" y2="521.29" stroke="#151515" stroke-width="1.0"/>
<line x1="84.30" y1="520.57" x2="88.30" y2="520.57" stroke="#151515" stroke-width="1.0"/>
<line x1="84.30" y1="521.29" x2="88.30" y2="521.29" stroke="#151515" stroke-width="1.0"/>
<rect x="107.6" y="514.3" width="22.1" height="8.20" fill="url(#checker)" stroke="#111" stroke-width="0.9"/>
<rect x="140.2" y="522.02" width="21.6" height="0.48" fill="#fff" stroke="#111" stroke-width="0.8"/>
<rect x="171.6" y="470.2" width="21.6" height="52.30" fill="url(#vstripe)" stroke="#111" stroke-width="0.9"/>
<line x1="182.40" y1="448.70" x2="182.40" y2="470.20" stroke="#222" stroke-width="0.9"/>
<line x1="176.80" y1="448.70" x2="187.80" y2="448.70" stroke="#222" stroke-width="1.0"/>
<text x="93.50" y="533.00" font-size="8.6" text-anchor="end" font-weight="bold" fill="#1e1e1e" stroke="#1e1e1e" stroke-width="0.3" transform="rotate(-45 93.50 533.00)">FCCC-OC-16</text>
<text x="123.60" y="532.60" font-size="8.6" text-anchor="end" font-weight="bold" fill="#1e1e1e" stroke="#1e1e1e" stroke-width="0.3" transform="rotate(-45 123.60 532.60)">Wistar-1</text>
<text x="155.00" y="532.80" font-size="8.6" text-anchor="end" font-weight="bold" fill="#1e1e1e" stroke="#1e1e1e" stroke-width="0.3" transform="rotate(-45 155.00 532.80)">Wistar-2</text>
<text x="183.40" y="532.80" font-size="8.6" text-anchor="end" font-weight="bold" fill="#1e1e1e" stroke="#1e1e1e" stroke-width="0.3" transform="rotate(-45 183.40 532.80)">Wistar-3</text>
<text x="244.60" y="414.30" font-size="13" text-anchor="start" font-weight="bold" fill="#111" stroke="#111" stroke-width="0.3">F</text>
<text x="369.80" y="390.80" font-size="9.2" text-anchor="middle" fill="#1e1e1e" stroke="#1e1e1e" stroke-width="0.22">Wistar-3</text>
<text x="315.20" y="404.10" font-size="9.2" text-anchor="middle" fill="#1e1e1e" stroke="#1e1e1e" stroke-width="0.22">Mock</text>
<text x="431.80" y="404.10" font-size="9.2" text-anchor="middle" fill="#1e1e1e" stroke="#1e1e1e" stroke-width="0.22">FSHCER</text>
<rect x="258.8" y="409.2" width="109" height="86.6" fill="url(#bg1)"/>
<path d="M276.00,409.20 L339.00,409.20 L341.20,416.50 L344.60,428.00 L339.00,433.50 L337.70,446.50 L347.00,455.00 L345.80,461.50 L341.20,473.00 L338.80,483.50 L338.30,488.00 L329.60,495.60 L313.70,495.80 L302.20,494.20 L288.30,488.50 L276.80,480.50 L268.70,471.20 L264.40,461.50 L263.30,452.00 L264.50,446.50 L267.20,435.00 L270.50,427.00 L274.00,416.50Z" fill="#c060a8" filter="url(#tissue)"/>
<path d="M264.5,455 C266,470 278,484 300,492 L312,494 C292,488 274,476 268,458 Z" fill="#7a3a80" opacity="0.35"/>
<path d="M271.50,430.50 L276.00,424.50 L282.00,421.20 L291.00,418.80 L305.00,415.20 L320.00,411.90 L321.50,413.00 L306.00,416.90 L292.00,420.60 L283.00,423.40 L277.00,427.00 L273.50,431.50Z" fill="#f6eef2"/>
<path d="M324.00,480.00 L327.00,479.00 L331.00,486.00 L328.00,493.00 L325.00,492.00Z" fill="#f8f6f4"/>
<path d="M339.50,432.50 L343.50,433.50 L346.50,440.00 L344.50,447.00 L341.00,446.00 L342.00,440.00Z" fill="#f8f6f0"/>
<path d="M264.00,453.50 C264.47,449.85 265.95,443.07 267.50,439.60 C269.05,436.13 270.42,434.92 273.30,432.70 C276.18,430.48 280.38,428.62 284.80,426.30 C289.22,423.98 294.98,420.90 299.80,418.80 C304.62,416.70 310.08,415.03 313.70,413.70 C317.32,412.37 317.70,411.08 321.50,410.80 C325.30,410.52 332.65,410.55 336.50,412.00 C340.35,413.45 342.48,416.43 344.60,419.50 C346.72,422.57 348.23,426.48 349.20,430.40 C350.17,434.32 350.30,438.90 350.40,443.00 C350.50,447.10 350.77,450.95 349.80,455.00 C348.83,459.05 346.82,463.33 344.60,467.30 C342.38,471.27 339.38,475.35 336.50,478.80 C333.62,482.25 330.57,485.50 327.30,488.00 C324.03,490.50 321.08,492.83 316.90,493.80 C312.72,494.77 306.97,494.77 302.20,493.80 C297.43,492.83 292.53,490.30 288.30,488.00 C284.07,485.70 280.07,482.87 276.80,480.00 C273.53,477.13 270.72,473.88 268.70,470.80 C266.68,467.72 265.48,464.38 264.70,461.50 C263.92,458.62 263.53,457.15 264.00,453.50 Z" fill="none" stroke="#2a2a2a" stroke-width="1.25" stroke-dasharray="1.2 1.2"/>
<line x1="345.80" y1="489.60" x2="364.80" y2="489.60" stroke="#222" stroke-width="1.5"/>
<rect x="374" y="409.2" width="107.6" height="86.8" fill="url(#bg2)"/>
<path d="M434.30,410.00 C437.18,409.53 441.53,409.22 444.60,409.80 C447.67,410.38 450.20,411.63 452.70,413.50 C455.20,415.37 457.88,418.18 459.60,421.00 C461.32,423.82 462.23,426.92 463.00,430.40 C463.77,433.88 464.08,437.80 464.20,441.90 C464.32,446.00 464.27,451.57 463.70,455.00 C463.13,458.43 462.25,459.67 460.80,462.50 C459.35,465.33 457.13,469.00 455.00,472.00 C452.87,475.00 450.50,477.83 448.00,480.50 C445.50,483.17 442.68,485.82 440.00,488.00 C437.32,490.18 434.40,492.52 431.90,493.60 C429.40,494.68 428.48,495.43 425.00,494.50 C421.52,493.57 416.00,490.58 411.00,488.00 C406.00,485.42 399.78,482.25 395.00,479.00 C390.22,475.75 385.38,472.00 382.30,468.50 C379.22,465.00 377.73,461.67 376.50,458.00 C375.27,454.33 374.95,449.67 374.90,446.50 C374.85,443.33 374.02,441.75 376.20,439.00 C378.38,436.25 383.70,432.50 388.00,430.00 C392.30,427.50 397.37,426.13 402.00,424.00 C406.63,421.87 411.58,419.10 415.80,417.20 C420.02,415.30 424.22,413.80 427.30,412.60 C430.38,411.40 431.42,410.47 434.30,410.00 Z" fill="#fbf9fa"/>
<path d="M392.00,448.00 L400.00,442.00 L410.00,446.00 L418.00,452.00 L428.00,450.00 L436.00,444.00 L442.00,448.00 L448.00,456.00 L456.00,462.00 L462.00,470.00 L466.00,482.00 L464.00,496.00 L398.00,496.00 L393.00,480.00Z" fill="#c8a0b8" filter="url(#debris)"/>
<path d="M390,452 C396,458 402,470 410,474 C416,480 418,490 420,496 L396,496 C393,488 390,478 389.5,465 Z" fill="#e2b8cc" opacity="0.55" filter="url(#debris2)"/>
<path d="M374,436 L378.6,437.8 L380.2,439.6 L379,446 L378.5,458 L376.5,466 L374,468 Z" fill="#ebe4ec"/>
<circle cx="375.5" cy="440" r="1.2" fill="#3a2a55"/>
<circle cx="377" cy="446" r="1.0" fill="#3a2a55"/>
<circle cx="375.8" cy="452" r="1.3" fill="#3a2a55"/>
<circle cx="377.2" cy="457" r="0.9" fill="#3a2a55"/>
<circle cx="375.5" cy="461.5" r="1.1" fill="#3a2a55"/>
<circle cx="377.5" cy="438.5" r="0.9" fill="#3a2a55"/>
<circle cx="376" cy="434.5" r="1.0" fill="#3a2a55"/>
<circle cx="374.8" cy="447" r="0.9" fill="#3a2a55"/>
<circle cx="377.6" cy="450.5" r="0.8" fill="#3a2a55"/>
<path d="M374.00,496.00 L374.50,478.00 L376.50,468.00 L378.50,458.00 L379.00,446.00 L380.00,439.50 L388.00,431.50 L402.00,425.50 L416.00,418.60 L427.50,414.00 L434.50,411.20 L437.00,413.00 L431.00,418.50 L417.00,425.00 L405.00,431.50 L396.00,439.00 L390.00,449.00 L387.50,462.00 L389.00,476.00 L392.00,488.00 L394.00,496.00Z" fill="#cc5a98" filter="url(#tissue2)"/>
<path d="M378.60,437.80 L387.20,429.80 L401.30,423.80 L415.30,416.90 L427.00,412.20 L434.50,409.40 L436.50,410.60 L434.50,411.60 L427.50,414.20 L416.00,418.80 L402.00,425.60 L388.00,431.60 L380.20,439.60Z" fill="#5e2a60" opacity="0.8"/>
<path d="M374,480 C378,474 386,477 387,486 C388,492 384,496 380,496 L374,496 Z" fill="#d42a62" opacity="0.9"/>
<path d="M414.5,476 C418,470 426,472 428.5,480 C430,486 428,490 425,490 C425,484 422,478 418,478 C416,480 416,484 417,488 L414.5,488 C413,484 413,479 414.5,476 Z" fill="#cc3a72"/>
<path d="M428,489 C432,485 438,487 440,492 L439,496 L428,496 Z" fill="#d25a88" opacity="0.85"/>
<path d="M441.6,432 C443.5,434 444,437 443.6,441 L442.2,441 C442.4,437 441.8,435 440.8,433 Z" fill="#b83a60"/>
<path d="M434.30,410.00 C437.18,409.53 441.53,409.22 444.60,409.80 C447.67,410.38 450.20,411.63 452.70,413.50 C455.20,415.37 457.88,418.18 459.60,421.00 C461.32,423.82 462.23,426.92 463.00,430.40 C463.77,433.88 464.08,437.80 464.20,441.90 C464.32,446.00 464.27,451.57 463.70,455.00 C463.13,458.43 462.25,459.67 460.80,462.50 C459.35,465.33 457.13,469.00 455.00,472.00 C452.87,475.00 450.50,477.83 448.00,480.50 C445.50,483.17 442.68,485.82 440.00,488.00 C437.32,490.18 434.40,492.52 431.90,493.60 C429.40,494.68 428.48,495.43 425.00,494.50 C421.52,493.57 416.00,490.58 411.00,488.00 C406.00,485.42 399.78,482.25 395.00,479.00 C390.22,475.75 385.38,472.00 382.30,468.50 C379.22,465.00 377.73,461.67 376.50,458.00 C375.27,454.33 374.95,449.67 374.90,446.50 C374.85,443.33 374.02,441.75 376.20,439.00 C378.38,436.25 383.70,432.50 388.00,430.00 C392.30,427.50 397.37,426.13 402.00,424.00 C406.63,421.87 411.58,419.10 415.80,417.20 C420.02,415.30 424.22,413.80 427.30,412.60 C430.38,411.40 431.42,410.47 434.30,410.00 Z" fill="none" stroke="#2a2a2a" stroke-width="1.25" stroke-dasharray="1.2 1.2"/>
<line x1="460.20" y1="489.60" x2="478.70" y2="489.60" stroke="#222" stroke-width="1.5"/>
</svg>
</body></html>
